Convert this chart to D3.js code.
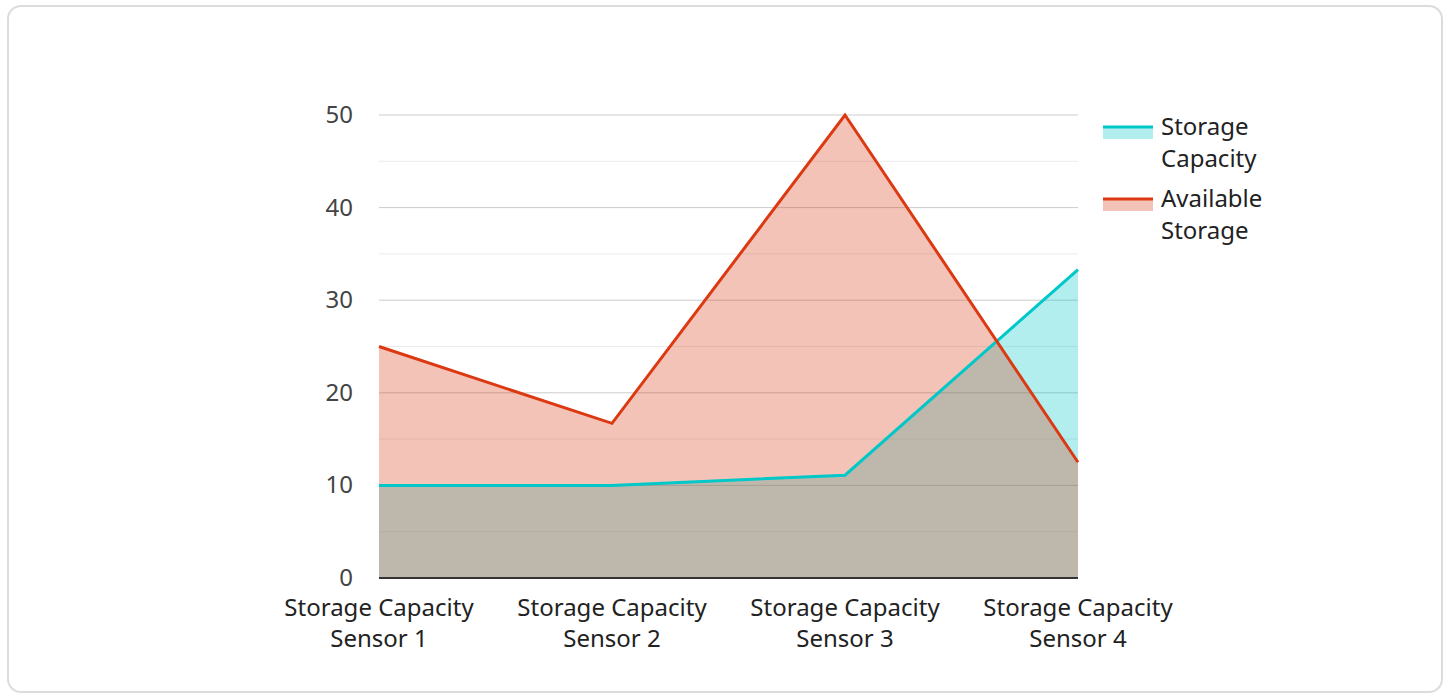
<!DOCTYPE html>
<html>
<head>
<meta charset="utf-8">
<script src="https://cdn.jsdelivr.net/npm/d3@7"></script>
<style>
  body { margin: 0; background: #fff; font-family: "Noto Sans", sans-serif; }
  #card { position: absolute; left: 7px; top: 5px; width: 1436px; height: 688px;
          border: 2px solid #dcdcdc; border-radius: 14px; box-sizing: border-box; }
</style>
</head>
<body>
<div id="card"></div>
<svg id="chart" width="1452" height="697" style="position:absolute;left:0;top:0"></svg>
<script>
var categories = ["Storage Capacity Sensor 1", "Storage Capacity Sensor 2", "Storage Capacity Sensor 3", "Storage Capacity Sensor 4"];
var catLines = [["Storage Capacity", "Sensor 1"], ["Storage Capacity", "Sensor 2"], ["Storage Capacity", "Sensor 3"], ["Storage Capacity", "Sensor 4"]];
var seriesNames = ["Storage Capacity", "Available Storage"];
var capacity = [10, 10, 11.1, 33.3];
var available = [25, 16.7, 50, 12.5];
var yTicks = [0, 10, 20, 30, 40, 50];
var legendLines = [["Storage", "Capacity"], ["Available", "Storage"]];
var colors = ["#00c8c8", "#dc3912"];

var svg = d3.select("#chart");
var pLeft = 379, pRight = 1078, pTop = 115, pBottom = 578;

var x = d3.scalePoint().domain(categories).range([pLeft, pRight]);
var y = d3.scaleLinear().domain([0, 50]).range([pBottom, pTop]);

// minor gridlines
var minor = d3.range(5, 50, 10);
svg.append("g").selectAll("line").data(minor).enter().append("line")
  .attr("x1", pLeft).attr("x2", pRight)
  .attr("y1", d => y(d)).attr("y2", d => y(d))
  .attr("stroke", "#ebebeb").attr("stroke-width", 1);

// major gridlines
svg.append("g").selectAll("line").data(yTicks.slice(1)).enter().append("line")
  .attr("x1", pLeft).attr("x2", pRight)
  .attr("y1", d => y(d)).attr("y2", d => y(d))
  .attr("stroke", "#cccccc").attr("stroke-width", 1);

var series = [capacity, available];

var area = d3.area()
  .x((d, i) => x(categories[i]))
  .y0(y(0))
  .y1(d => y(d));

var line = d3.line()
  .x((d, i) => x(categories[i]))
  .y(d => y(d));

series.forEach(function (s, k) {
  svg.append("path")
    .attr("d", area(s))
    .attr("fill", colors[k])
    .attr("fill-opacity", 0.3);
});

// baseline
svg.append("line")
  .attr("x1", pLeft).attr("x2", pRight)
  .attr("y1", y(0)).attr("y2", y(0))
  .attr("stroke", "#333").attr("stroke-width", 2);

series.forEach(function (s, k) {
  svg.append("path")
    .attr("d", line(s))
    .attr("fill", "none")
    .attr("stroke", colors[k])
    .attr("stroke-width", 3);
});

// y tick labels
svg.append("g").selectAll("text").data(yTicks).enter().append("text")
  .attr("x", pLeft - 26)
  .attr("y", d => y(d) + 8)
  .attr("text-anchor", "end")
  .attr("font-size", 24)
  .attr("fill", "#444")
  .text(d => d);

// x labels
var xl = svg.append("g").selectAll("text").data(categories).enter().append("text")
  .attr("text-anchor", "middle")
  .attr("font-size", 24)
  .attr("fill", "#222");
xl.each(function (d, i) {
  var t = d3.select(this);
  catLines[i].forEach(function (ln, j) {
    t.append("tspan").attr("x", x(d)).attr("y", 616 + j * 31).text(ln);
  });
});

// legend
seriesNames.forEach(function (name, k) {
  var ly = 127 + k * 72;
  svg.append("rect").attr("x", 1103).attr("y", ly).attr("width", 50).attr("height", 12)
    .attr("fill", colors[k]).attr("fill-opacity", 0.3);
  svg.append("line").attr("x1", 1103).attr("x2", 1153).attr("y1", ly).attr("y2", ly)
    .attr("stroke", colors[k]).attr("stroke-width", 3);
  var t = svg.append("text").attr("font-size", 24).attr("fill", "#222");
  legendLines[k].forEach(function (ln, j) {
    t.append("tspan").attr("x", 1161).attr("y", ly + 8 + j * 32).text(ln);
  });
});
</script>
</body>
</html>
